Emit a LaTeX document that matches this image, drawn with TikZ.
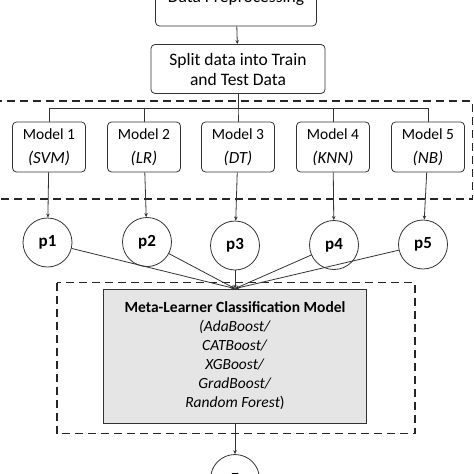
\documentclass[tikz,border=0pt]{standalone}
\usepackage{fontspec}
\setmainfont{Carlito}
\usetikzlibrary{positioning,arrows.meta}

\begin{document}
\begin{tikzpicture}[x=1pt, y=-1pt, >={Stealth[length=4pt,width=3.5pt]},
  line/.style={draw=black!80, line width=0.8pt},
  box/.style={line, rounded corners=4pt, align=center},
  modelbox/.style={box, minimum width=73pt, minimum height=50pt, font=\fontsize{15.5}{24}\selectfont},
  pnode/.style={circle, line, minimum size=49pt, inner sep=0pt, font=\fontsize{17}{20}\selectfont\bfseries},
  group/.style={draw=black!85, line width=1.8pt, dash pattern=on 8pt off 5pt}]
\clip (0,0) rectangle (474,474);
\useasboundingbox (0,0) rectangle (474,474);

% top boxes
\node[box, minimum width=161pt, minimum height=56pt, font=\fontsize{17.5}{20}\selectfont] (prep) at (236,-2) {Data Preprocessing};
\node[box, minimum width=174pt, minimum height=49pt, font=\fontsize{17.5}{20}\selectfont] (split) at (238,69) {Split data into Train\\and Test Data};

% base models
\node[modelbox] (M1) at (49,147) {Model 1\\\textit{\fontsize{17}{25}\selectfont(SVM)}};
\node[modelbox] (M2) at (144,147) {Model 2\\\textit{\fontsize{17}{25}\selectfont(LR)}};
\node[modelbox] (M3) at (238,147) {Model 3\\\textit{\fontsize{17}{25}\selectfont(DT)}};
\node[modelbox] (M4) at (333,147) {Model 4\\\textit{\fontsize{17}{25}\selectfont(KNN)}};
\node[modelbox] (M5) at (428,147) {Model 5\\\textit{\fontsize{17}{25}\selectfont(NB)}};

% predictions
\node[pnode] (p1) at (47.5,242.5) {p1};
\node[pnode] (p2) at (147,242) {p2};
\node[pnode] (p3) at (235,245.5) {p3};
\node[pnode] (p4) at (334,245) {p4};
\node[pnode] (p5) at (423,244.5) {p5};

% meta learner
\node[line, fill=black!10, minimum width=263pt, minimum height=134pt, align=center,
  font=\fontsize{15.5}{19}\selectfont] (meta) at (235,356)
  {\textbf{Meta-Learner Classification Model}\\\textit{(AdaBoost/}\\\textit{CATBoost/}\\\textit{XGBoost/}\\\textit{GradBoost/}\\\textit{Random Forest})};
\node[pnode] (final) at (235,479) {F};

% dashed groups
\draw[group] (-5,101) rectangle (472.5,199);
\draw[group] (57,282.5) rectangle (415,433.5);

% arrows
\draw[line,->] (prep) -- (split);
\foreach \i in {1,...,5}
  \draw[line] (split.south) -- ++(0,14.5) -| (M\i.north);
\foreach \i in {1,...,5}
  \draw[line,->] (M\i) -- (p\i);
\foreach \i in {1,...,5}
  \draw[line,->] (p\i) -- (meta.north);
\draw[line,->] (meta) -- (final);
\end{tikzpicture}
\end{document}
